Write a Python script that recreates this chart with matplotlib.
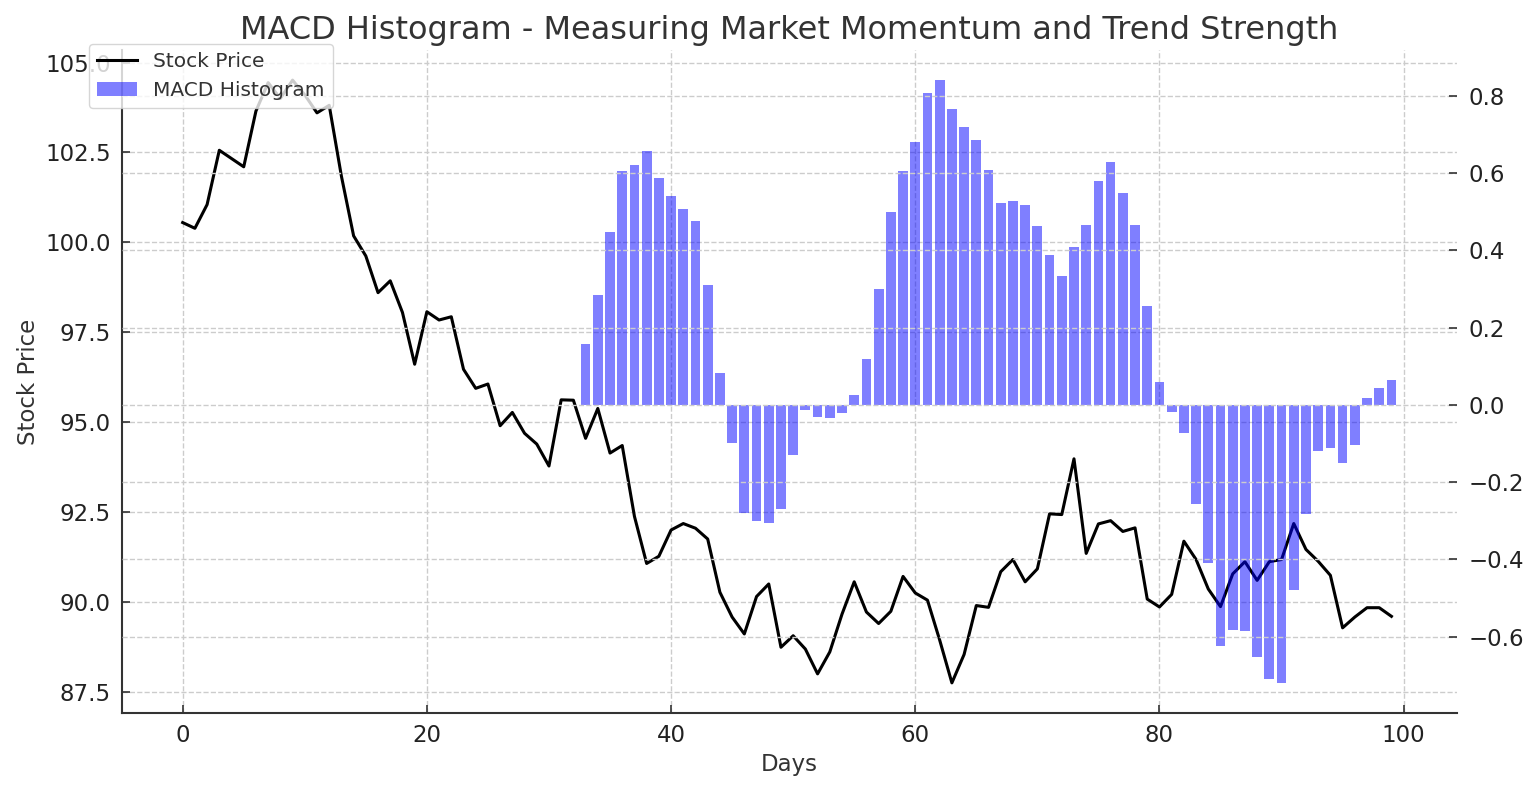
import matplotlib
matplotlib.use("Agg")
import matplotlib.pyplot as plt
import numpy as np

# stock price per day (0..99)
price = [
    100.55, 100.39, 101.05, 102.56, 102.33, 102.10, 103.65, 104.44, 104.00, 104.51,
    104.10, 103.60, 103.81, 101.84, 100.18, 99.62, 98.60, 98.93, 98.05, 96.61,
    98.07, 97.84, 97.93, 96.47, 95.94, 96.06, 94.90, 95.27, 94.69, 94.39,
    93.78, 95.62, 95.61, 94.55, 95.38, 94.14, 94.35, 92.38, 91.07, 91.27,
    92.00, 92.18, 92.05, 91.75, 90.27, 89.58, 89.11, 90.15, 90.50, 88.74,
    89.06, 88.69, 88.00, 88.61, 89.66, 90.56, 89.72, 89.40, 89.74, 90.71,
    90.25, 90.05, 88.94, 87.75, 88.54, 89.90, 89.85, 90.84, 91.18, 90.56,
    90.92, 92.45, 92.43, 93.98, 91.35, 92.17, 92.26, 91.96, 92.06, 90.08,
    89.86, 90.21, 91.69, 91.18, 90.36, 89.87, 90.78, 91.12, 90.60, 91.12,
    91.18, 92.18, 91.46, 91.13, 90.74, 89.28, 89.58, 89.84, 89.84, 89.60,
]
days = np.arange(len(price))

# MACD histogram, first value on day 33
hist_start = 33
macd_hist = [
    0.158, 0.285, 0.448, 0.605, 0.620, 0.658, 0.588, 0.540, 0.506, 0.477,
    0.311, 0.082, -0.099, -0.281, -0.300, -0.305, -0.270, -0.129, -0.013, -0.032,
    -0.034, -0.020, 0.025, 0.118, 0.299, 0.500, 0.605, 0.680, 0.808, 0.841,
    0.765, 0.720, 0.686, 0.607, 0.523, 0.527, 0.518, 0.463, 0.387, 0.335,
    0.408, 0.467, 0.580, 0.629, 0.549, 0.465, 0.255, 0.060, -0.019, -0.074,
    -0.257, -0.410, -0.624, -0.582, -0.586, -0.654, -0.710, -0.720, -0.480, -0.283,
    -0.120, -0.113, -0.151, -0.104, 0.019, 0.043, 0.064,
]
hist_days = np.arange(hist_start, hist_start + len(macd_hist))

text_col = "#333333"
plt.rcParams["font.family"] = "DejaVu Sans"

fig = plt.figure(figsize=(15.36, 7.9), dpi=100)
ax1 = fig.add_axes([122 / 1536, 1 - 713 / 790, (1457 - 122) / 1536, (713 - 50) / 790])

ax1.plot(days, price, color="black", linewidth=2.2, label="Stock Price")
ax1.set_xlabel("Days", fontsize=16.5, color=text_col)
ax1.set_ylabel("Stock Price", fontsize=16.5, color=text_col)
ax1.set_title("MACD Histogram - Measuring Market Momentum and Trend Strength",
              fontsize=23, color=text_col, pad=8)

ax2 = ax1.twinx()
ax2.bar(hist_days, macd_hist, color="blue", alpha=0.5, label="MACD Histogram")

for ax in (ax1, ax2):
    ax.grid(True, linestyle="--", color="#cccccc", linewidth=1.0)
    ax.tick_params(direction="in", length=6, width=1.2, labelsize=16.5,
                   labelcolor="#222222", color="#333333", pad=8)
    ax.spines["top"].set_visible(False)
    ax.spines["right"].set_visible(False)
    for s in ("left", "bottom"):
        ax.spines[s].set_linewidth(1.5)
        ax.spines[s].set_color("#333333")
ax2.spines["left"].set_visible(False)
ax2.spines["bottom"].set_visible(False)

h1, l1 = ax1.get_legend_handles_labels()
h2, l2 = ax2.get_legend_handles_labels()
fig.legend(h1 + h2, l1 + l2, loc="upper left",
           bbox_to_anchor=(89 / 1536, 1 - 44 / 790), borderaxespad=0,
           fontsize=14.5, labelcolor=text_col, framealpha=0.8, edgecolor="#cccccc")

fig.savefig("out.png", dpi=100)
